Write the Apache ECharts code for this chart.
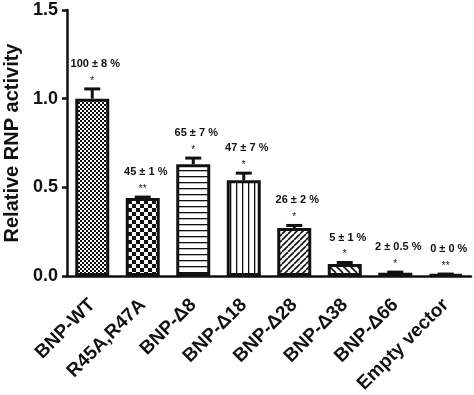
<!DOCTYPE html>
<html>
<head>
<meta charset="utf-8">
<script src="https://cdn.jsdelivr.net/npm/echarts@6/dist/echarts.min.js"></script>
<style>
html,body{margin:0;padding:0;background:#fff;}
#chart{width:474px;height:395px;}
</style>
</head>
<body>
<div id="chart"></div>
<script>
const categories = ['BNP-WT', 'R45A,R47A', 'BNP-Δ8', 'BNP-Δ18', 'BNP-Δ28', 'BNP-Δ38', 'BNP-Δ66', 'Empty vector'];
const values = [1.00, 0.44, 0.63, 0.54, 0.27, 0.068, 0.018, 0.008];
const errors = [0.055, 0.005, 0.035, 0.04, 0.015, 0.008, 0.004, 0.003];
const pctLabels = ['100 ± 8 %', '45 ± 1 %', '65 ± 7 %', '47 ± 7 %', '26 ± 2 %', '5 ± 1 %', '2 ± 0.5 %', '0 ± 0 %'];
const sigLabels = ['*', '**', '*', '*', '*', '*', '*', '**'];
const yTicks = [0.0, 0.5, 1.0, 1.5];

const INK = '#111';
const FONT = '"Liberation Sans", Arial, sans-serif';

function tile(size, draw) {
  const c = document.createElement('canvas');
  c.width = size; c.height = size;
  const g = c.getContext('2d');
  g.fillStyle = '#fff'; g.fillRect(0, 0, size, size);
  g.fillStyle = INK; g.strokeStyle = INK;
  draw(g, size);
  return c;
}
const patterns = [
  tile(4, (g) => { g.fillRect(0, 0, 2, 2); g.fillRect(2, 2, 2, 2); }),
  tile(8, (g) => { g.fillRect(0, 0, 4, 4); g.fillRect(4, 4, 4, 4); }),
  tile(6, (g) => { g.fillRect(0, 2, 6, 1.3); }),
  tile(6, (g) => { g.fillRect(2, 0, 1.3, 6); }),
  tile(6, (g, s) => { g.lineWidth = 1.6; for (const o of [-s, 0, s]) { g.beginPath(); g.moveTo(o, s); g.lineTo(o + s, 0); g.stroke(); } }),
  tile(7, (g, s) => { g.lineWidth = 1.6; for (const o of [-s, 0, s]) { g.beginPath(); g.moveTo(o, 0); g.lineTo(o + s, s); g.stroke(); } }),
  tile(4, (g) => { g.fillRect(0, 0, 4, 4); }),
  tile(4, (g) => { g.fillRect(0, 0, 4, 4); })
];

const barData = values.map((v, i) => ({
  value: v,
  itemStyle: { color: { image: patterns[i], repeat: 'repeat' } }
}));
const errData = values.map((v, i) => [i, v, errors[i]]);

const chart = echarts.init(document.getElementById('chart'), null, { renderer: 'canvas' });
chart.setOption({
  animation: false,
  backgroundColor: '#fff',
  grid: { left: 67, right: 3, top: 10, bottom: 119, containLabel: false, outerBoundsMode: 'none' },
  xAxis: {
    type: 'category',
    data: categories,
    axisLine: { lineStyle: { color: INK, width: 2.5 } },
    axisTick: { alignWithLabel: true, length: 8, lineStyle: { color: INK, width: 2.5 } },
    axisLabel: {
      rotate: 45, interval: 0, margin: 26,
      color: INK, fontFamily: FONT, fontWeight: 'bold', fontSize: 19
    }
  },
  yAxis: {
    type: 'value',
    min: yTicks[0], max: yTicks[yTicks.length - 1], interval: 0.5,
    name: 'Relative RNP activity',
    nameLocation: 'middle', nameGap: 45,
    nameTextStyle: { color: INK, fontFamily: FONT, fontWeight: 'bold', fontSize: 20 },
    splitLine: { show: false },
    axisLine: { show: true, lineStyle: { color: INK, width: 2.5 } },
    axisTick: { show: true, length: 5, lineStyle: { color: INK, width: 2.5 } },
    axisLabel: {
      margin: 9, color: INK, fontFamily: FONT, fontWeight: 'bold', fontSize: 18,
      formatter: (v) => v.toFixed(1)
    }
  },
  series: [
    {
      type: 'bar',
      data: barData,
      barWidth: 34,
      itemStyle: { borderColor: INK, borderWidth: 3 }
    },
    {
      type: 'custom',
      data: errData,
      z: 3,
      renderItem: (params, api) => {
        const i = api.value(0), v = api.value(1), e = api.value(2);
        const base = api.coord([i, v]);
        const top = api.coord([i, v + e]);
        const cap = 8;
        const children = [
          { type: 'line', shape: { x1: base[0], y1: base[1], x2: top[0], y2: top[1] }, style: { stroke: INK, lineWidth: 3 } },
          { type: 'line', shape: { x1: top[0] - cap, y1: top[1], x2: top[0] + cap, y2: top[1] }, style: { stroke: INK, lineWidth: 3 } },
          { type: 'text', style: { x: top[0] + 3, y: top[1] - 25, text: pctLabels[params.dataIndex], fill: INK, font: 'bold 11px ' + FONT, textAlign: 'center', textVerticalAlign: 'middle' } },
          { type: 'text', style: { x: top[0], y: top[1] - 8, text: sigLabels[params.dataIndex], fill: INK, font: '10px ' + FONT, textAlign: 'center', textVerticalAlign: 'middle' } }
        ];
        return { type: 'group', children };
      }
    }
  ]
});
</script>
</body>
</html>
